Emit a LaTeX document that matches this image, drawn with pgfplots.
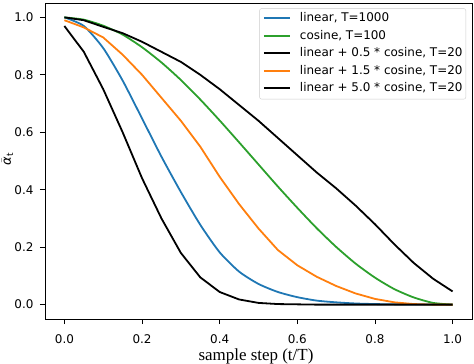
\documentclass[border=0pt]{standalone}
\usepackage{pgfplots}
\pgfplotsset{compat=1.18}
\usepackage{fontspec}
\setmainfont{DejaVu Sans}
\newfontfamily\timesfont{Liberation Serif}
\definecolor{mplblue}{HTML}{1F77B4}
\definecolor{mplorange}{HTML}{FF7F0E}
\definecolor{mplgreen}{HTML}{2CA02C}
\begin{document}
\begin{tikzpicture}
\begin{axis}[
  at={(45bp,45bp)}, anchor=south west,
  scale only axis, width=427bp, height=316bp,
  xmin=-0.05, xmax=1.05, ymin=-0.05, ymax=1.05,
  xtick={0,0.2,0.4,0.6,0.8,1}, ytick={0,0.2,0.4,0.6,0.8,1},
  /pgf/number format/assume math mode=true,
  /pgf/number format/.cd, fixed, fixed zerofill, precision=1, /pgfplots/.cd,
  tick align=outside, tick pos=left, major tick length=5bp,
  tick style={black, line width=0.8bp},
  axis line style={black, line width=0.8bp},
  ticklabel style={font=\fontsize{12}{14}\selectfont},
  xticklabel style={yshift=-7bp},
  yticklabel style={xshift=-3bp},
  xlabel={\timesfont\fontsize{17}{20}\selectfont sample step (t/T)},
  xlabel style={at={(axis description cs:0.5,0)}, anchor=base, yshift=-41.7bp, xshift=-2.5bp},
  ylabel={\fontsize{13}{15}\selectfont $\bar{\mbox{\itshape α}}_{\mbox{\fontsize{9}{10}\selectfont t}}$},
  ylabel style={at={(axis description cs:0,0.5)}, anchor=center, yshift=37.5bp, xshift=2bp},
  legend cell align=left,
  legend style={at={(rel axis cs:0.986,0.983)}, anchor=north east,
    draw=black!20, rounded corners=2bp, fill=white, fill opacity=0.8, text opacity=1,
    font=\fontsize{12}{14}\selectfont, inner xsep=3.3bp, inner ysep=4.3bp,
    nodes={inner xsep=0bp, inner ysep=0bp, text height=9bp, text depth=3bp, anchor=base west},
    row sep=5.5bp, column sep=9.3bp},
  legend image code/.code={\draw[#1] (0bp,3.5bp) -- (26bp,3.5bp);},
]
\addplot[mplblue, line width=1.8bp, smooth, tension=0.4] coordinates {
(0,1.0) (0.05,0.97) (0.10,0.893) (0.15,0.78) (0.20,0.648) (0.25,0.515) (0.30,0.392)
(0.35,0.278) (0.40,0.182) (0.45,0.115) (0.50,0.072) (0.55,0.044) (0.60,0.026) (0.65,0.014)
(0.70,0.008) (0.75,0.004) (0.80,0.002) (0.85,0.001) (0.90,0.0005) (0.95,0.0002) (1.0,0.0001)};
\addlegendentry{linear, T=1000}
\addplot[mplgreen, line width=1.8bp, smooth, tension=0.4] coordinates {
(0,1.0) (0.05,0.992) (0.10,0.971) (0.15,0.94) (0.20,0.896) (0.25,0.843) (0.30,0.782)
(0.35,0.714) (0.40,0.641) (0.45,0.565) (0.50,0.488) (0.55,0.411) (0.60,0.337) (0.65,0.266)
(0.70,0.201) (0.75,0.143) (0.80,0.094) (0.85,0.054) (0.90,0.025) (0.95,0.006) (1.0,0.0)};
\addlegendentry{cosine, T=100}
\addplot[black, line width=1.8bp] coordinates {
(0,1.0) (0.05,0.99) (0.10,0.967) (0.15,0.945) (0.20,0.915) (0.25,0.88) (0.30,0.845)
(0.35,0.80) (0.40,0.75) (0.45,0.695) (0.50,0.64) (0.55,0.58) (0.60,0.52) (0.65,0.46)
(0.70,0.405) (0.75,0.345) (0.80,0.28) (0.85,0.21) (0.90,0.145) (0.95,0.09) (1.0,0.046)};
\addlegendentry{linear + 0.5 * cosine, T=20}
\addplot[mplorange, line width=1.8bp] coordinates {
(0,0.99) (0.05,0.965) (0.10,0.93) (0.15,0.87) (0.20,0.80) (0.25,0.72) (0.30,0.64)
(0.35,0.55) (0.40,0.445) (0.45,0.35) (0.50,0.265) (0.55,0.19) (0.60,0.137) (0.65,0.097)
(0.70,0.065) (0.75,0.039) (0.80,0.02) (0.85,0.008) (0.90,0.002) (0.95,0.0) (1.0,0.0)};
\addlegendentry{linear + 1.5 * cosine, T=20}
\addplot[black, line width=1.8bp] coordinates {
(0,0.97) (0.05,0.88) (0.10,0.75) (0.15,0.60) (0.20,0.44) (0.25,0.30) (0.30,0.18)
(0.35,0.095) (0.40,0.044) (0.45,0.018) (0.50,0.006) (0.55,0.002) (0.60,0.001) (0.65,0.0)
(0.70,0.0) (0.75,0.0) (0.80,0.0) (0.85,0.0) (0.90,0.0) (0.95,0.0) (1.0,0.0)};
\addlegendentry{linear + 5.0 * cosine, T=20}
\end{axis}
\pgfresetboundingbox
\path (0,0) rectangle (474bp,364bp);
\end{tikzpicture}
\end{document}
